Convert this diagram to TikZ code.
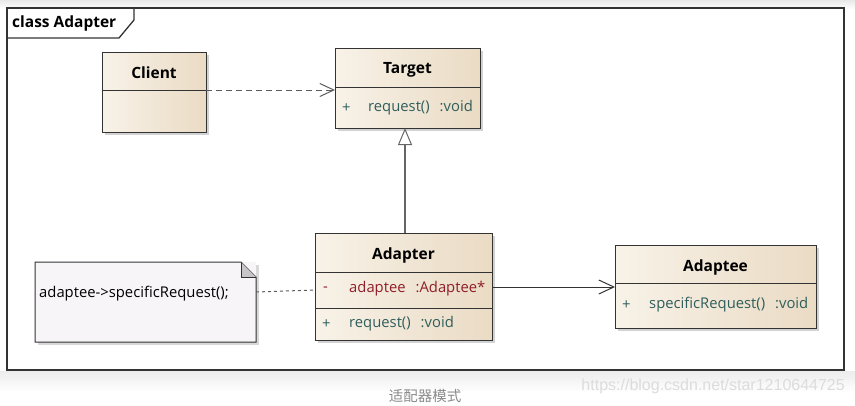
\documentclass[tikz,border=0pt]{standalone}
\usepackage{fontspec}
\setmainfont{Open Sans}
\newfontfamily\cjk{Noto Sans CJK SC}
\newfontfamily\wmfont{Liberation Sans}
\usetikzlibrary{arrows.meta,shadows,positioning}
\definecolor{frameC}{HTML}{333333}
\definecolor{boxL}{HTML}{F8F2E8}
\definecolor{boxR}{HTML}{EADBC4}
\definecolor{opC}{HTML}{2E5E5C}
\definecolor{attrC}{HTML}{8E1E28}
\definecolor{noteC}{HTML}{F8F5F9}
\definecolor{capC}{HTML}{8A8A8A}
\definecolor{wmC}{HTML}{DCDCDC}
\newcommand{\gapsp}{\hspace{10pt}}
\tikzset{
  umlclass/.style={draw=frameC, line width=1pt, left color=boxL, right color=boxR,
    anchor=north west, inner sep=0pt, drop shadow={shadow xshift=2.5pt, shadow yshift=-2.5pt, opacity=0.35}},
  cname/.style={font=\fontsize{15.5}{17}\selectfont\bfseries, inner sep=0pt},
  member/.style={font=\fontsize{14.8}{16}\selectfont, inner sep=0pt, anchor=west},
  divider/.style={draw=frameC, line width=1pt},
  notebox/.style={fill=noteC, inner sep=0pt, anchor=north west, drop shadow={shadow xshift=2.5pt, shadow yshift=-2.5pt, opacity=0.3}},
  dep/.style={draw=frameC!80, line width=1pt, dash pattern=on 6pt off 4pt, -{Straight Barb[length=14pt,width=13pt,line width=1pt]}},
  assoc/.style={draw=frameC, line width=1pt, -{Straight Barb[length=15pt,width=14pt,line width=1pt]}},
  gen/.style={draw=gray!80!black, line width=1.4pt, -{Triangle[open,length=17pt,width=14pt,fill=white,line width=1pt]}},
  noteline/.style={draw=frameC!80, line width=1pt, dash pattern=on 3pt off 3pt},
}
\begin{document}
\begin{tikzpicture}[x=1pt,y=-1pt]
\useasboundingbox (0,0) rectangle (855,405);
% page background
\shade[top color=gray!18, bottom color=white] (0,0) rectangle (855,9);
\shade[top color=gray!15, bottom color=white] (0,371) rectangle (855,392);
% frame
\fill[white] (7,8) rectangle (844,370);
\draw[frameC, line width=1.3pt] (7,8) rectangle (844,370);
\draw[frameC, line width=1.3pt] (7,38) -- (119,38) -- (134,20) -- (134,8);
\node[font=\fontsize{15.5}{17}\selectfont\bfseries, anchor=west, inner sep=0pt] (title) at (12,23) {class Adapter};

% Client
\node[umlclass, minimum width=104pt, minimum height=80pt] (client) at (102,52) {};
\draw[divider] (102,90) -- (206,90);
\node[cname] (clientname) at (154,73) {Client};

% Target
\node[umlclass, minimum width=145pt, minimum height=80pt] (target) at (335,48) {};
\draw[divider] (335,87) -- (480,87);
\node[cname] (targetname) at (407.5,70) {Target};
\node[member, text=opC] (tvis) at (342,108) {+};
\node[member, text=opC] (top) at (368,108) {request()\gapsp:void};

% Adapter
\node[umlclass, minimum width=177pt, minimum height=107pt] (adapter) at (315,233) {};
\draw[divider] (315,272) -- (492,272);
\draw[divider] (315,308) -- (492,308);
\node[cname] (adaptername) at (403.5,255) {Adapter};
\node[member, text=attrC] (avis) at (323,289) {-};
\node[member, text=attrC] (aattr) at (349,289) {adaptee\gapsp:Adaptee*};
\node[member, text=opC] (ovis) at (322,324) {+};
\node[member, text=opC] (aop) at (349,324) {request()\gapsp:void};

% Adaptee
\node[umlclass, minimum width=201pt, minimum height=83pt] (adaptee) at (615,245) {};
\draw[divider] (615,283) -- (816,283);
\node[cname] (adapteename) at (715.5,267) {Adaptee};
\node[member, text=opC] (evis) at (622,305) {+};
\node[member, text=opC] (eop) at (649,305) {specificRequest()\gapsp:void};

% Note
\node[notebox, minimum width=221pt, minimum height=80pt] (note) at (35,262) {};
\draw[frameC, line width=1pt] (35,262) -- (241,262) -- (256,277) -- (256,342) -- (35,342) -- cycle;
\fill[gray!45] (241,262) -- (256,277) -- (241,277) -- cycle;
\draw[frameC, line width=0.8pt] (241,262) -- (241,277) -- (256,277);
\node[member] (notetext) at (39,294) {adaptee->specificRequest();};

% connectors
\coordinate (cl) at (206,90);
\coordinate (tl) at (335,90);
\draw[dep] (cl) -- (tl);
\coordinate (ag) at (405,233);
\coordinate (tg) at (405,128);
\draw[gen] (ag) -- (tg);
\coordinate (ar) at (492,287);
\coordinate (el) at (615,287);
\draw[assoc] (ar) -- (el);
\coordinate (nr) at (256,292);
\coordinate (al) at (315,290);
\draw[noteline] (nr) -- (al);

% captions
\node[font=\cjk\fontsize{14.5}{16}\selectfont, text=capC, inner sep=0pt] (caption) at (425,396) {适配器模式};
\node[font=\wmfont\fontsize{16}{18}\selectfont, text=wmC, anchor=east, inner sep=0pt] (wm) at (845,386) {https://blog.csdn.net/star1210644725};
\end{tikzpicture}
\end{document}
